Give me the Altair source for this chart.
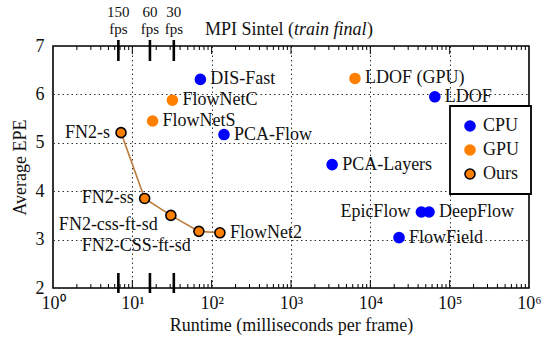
import altair as alt
import pandas as pd

# ---- data ----
names = ["DIS-Fast", "FlowNetC", "FlowNetS", "PCA-Flow", "LDOF (GPU)", "LDOF",
         "PCA-Layers", "EpicFlow", "DeepFlow", "FlowField",
         "FN2-s", "FN2-ss", "FN2-css-ft-sd", "FN2-CSS-ft-sd", "FlowNet2"]
runtime = [72, 32, 18, 143, 6400, 65000, 3300, 44000, 55000, 23000,
           7.2, 14.3, 30.6, 69, 127]
epe = [6.31, 5.88, 5.45, 5.17, 6.33, 5.95, 4.55, 3.57, 3.57, 3.04,
       5.21, 3.85, 3.50, 3.17, 3.14]
kind = ["CPU", "GPU", "GPU", "CPU", "GPU", "CPU", "CPU", "CPU", "CPU", "CPU",
        "Ours", "Ours", "Ours", "Ours", "Ours"]

kinds = ["CPU", "GPU", "Ours"]
fills = ["#0000ff", "#ff8000", "#ff8000"]
strokes = ["#0000ff", "#ff8000", "#000000"]

fps = [150, 60, 30]
fps_labels = ["150\nfps", "60\nfps", "30\nfps"]
decades = [1, 10, 100, 1000, 10000, 100000, 1000000]
minor = [m * d for d in decades[:-1] for m in range(2, 10)]
y_ticks = [2, 3, 4, 5, 6, 7]

right_labels = ["DIS-Fast", "FlowNetC", "FlowNetS", "PCA-Flow", "LDOF (GPU)", "LDOF",
                "PCA-Layers", "DeepFlow", "FlowField", "FlowNet2"]
left_labels = ["FN2-s", "FN2-ss", "EpicFlow"]

df = pd.DataFrame({"name": names, "runtime": runtime, "epe": epe, "kind": kind})
fps_df = pd.DataFrame({"runtime": [1000.0 / f for f in fps], "label": fps_labels})
minor_df = pd.DataFrame({"runtime": minor})
major_df = pd.DataFrame({"runtime": decades[1:-1]})

FONT = "Liberation Serif"
W, H = 476, 242

xscale = alt.Scale(type="log", domain=[1, 1000000], nice=False)
yscale = alt.Scale(domain=[2, 7], nice=False, zero=False)
sup = "['\u2070','\u00b9','\u00b2','\u00b3','\u2074','\u2075','\u2076']"
xaxis = alt.Axis(values=decades, labelExpr="'10' + " + sup + "[round(log(datum.value)/LN10)]",
                 ticks=False, domain=False, grid=True, gridDash=[1.5, 3], gridColor="#333",
                 gridWidth=1, labelFont=FONT, labelFontSize=18, labelColor="#111",
                 labelPadding=6, title="Runtime (milliseconds per frame)",
                 titleFont=FONT, titleFontSize=18, titleFontWeight="normal",
                 titleColor="#111", titlePadding=4, labelFlush=False)
yaxis = alt.Axis(values=y_ticks, ticks=False, domain=False, grid=True, gridDash=[1.5, 3],
                 gridColor="#333", gridWidth=1, labelFont=FONT, labelFontSize=18,
                 labelColor="#111", labelPadding=9, title="Average EPE",
                 titleFont=FONT, titleFontSize=18, titleFontWeight="normal",
                 titleColor="#111", titlePadding=6, labelFlush=False)

X = alt.X("runtime:Q", scale=xscale, axis=xaxis)
Y = alt.Y("epe:Q", scale=yscale, axis=yaxis)

base = alt.Chart(df)

line = base.transform_filter(alt.datum.kind == "Ours").mark_line(
    color="#bb7d3e", strokeWidth=1.6).encode(x=X, y=Y)

legend = alt.Legend(title=None, orient="none", legendX=397, legendY=60,
                    fillColor="white", strokeColor="black",
                    padding=11, labelFont=FONT, labelFontSize=18,
                    labelColor="#111", symbolSize=100,
                    symbolStrokeWidth=1.6, rowPadding=6,
                    symbolType="circle", labelOffset=4)

points = base.mark_point(filled=True, size=100, strokeWidth=1.6, opacity=1).encode(
    x=X, y=Y,
    fill=alt.Fill("kind:N", scale=alt.Scale(domain=kinds, range=fills), legend=legend),
    stroke=alt.Stroke("kind:N", scale=alt.Scale(domain=kinds, range=strokes), legend=legend),
)

def labels(sel, **kw):
    return base.transform_filter(alt.FieldOneOfPredicate(field="name", oneOf=sel)).mark_text(
        font=FONT, fontSize=18, color="#111", baseline="middle", **kw
    ).encode(x=X, y=Y, text="name:N")

lab_r = labels(right_labels, align="left", dx=10)
lab_l = labels(left_labels, align="right", dx=-11)
lab_c1 = labels(["FN2-css-ft-sd"], align="right", dx=-13, dy=10)
lab_c2 = labels(["FN2-CSS-ft-sd"], align="right", dx=-8, dy=15)

minor_top = alt.Chart(minor_df).mark_rule(color="black", strokeWidth=1).encode(
    x=X, y=alt.value(0), y2=alt.value(4))
minor_bot = alt.Chart(minor_df).mark_rule(color="black", strokeWidth=1).encode(
    x=X, y=alt.value(H - 4), y2=alt.value(H))
major_top = alt.Chart(major_df).mark_rule(color="black", strokeWidth=1).encode(
    x=X, y=alt.value(0), y2=alt.value(8))
major_bot = alt.Chart(major_df).mark_rule(color="black", strokeWidth=1).encode(
    x=X, y=alt.value(H - 8), y2=alt.value(H))

fps_top = alt.Chart(fps_df).mark_rule(color="black", strokeWidth=2.6).encode(
    x=X, y=alt.value(-6), y2=alt.value(15))
fps_bot = alt.Chart(fps_df).mark_rule(color="black", strokeWidth=2.6).encode(
    x=X, y=alt.value(H - 15), y2=alt.value(H + 5))
fps_text = alt.Chart(fps_df).mark_text(font=FONT, fontSize=15, color="#111",
                                       baseline="alphabetic", align="center",
                                       lineBreak="\n", lineHeight=17.5).encode(
    x=X, y=alt.value(-29.5), text="label:N")

title_parts = [("MPI Sintel (", "normal", 152), ("train final", "italic", 241), (")", "normal", 314)]
title_layers = [
    alt.Chart(df).transform_filter(alt.datum.name == "FlowNet2").mark_text(
        font=FONT, fontSize=18, color="#111", baseline="alphabetic", align="left",
        fontStyle=style).encode(x=alt.value(px), y=alt.value(-11), text=alt.value(txt))
    for txt, style, px in title_parts
]

chart = alt.layer(
    line, minor_top, minor_bot, major_top, major_bot, fps_top, fps_bot,
    points, lab_r, lab_l, lab_c1, lab_c2, fps_text, *title_layers
).properties(
    width=W, height=H,
    autosize=alt.AutoSizeParams(type="none"),
    padding={"left": 53, "top": 46, "right": 30, "bottom": 55},
    background="white",
).configure_view(stroke="black", strokeWidth=1.6).configure_legend(strokeWidth=1.8)

chart.save("out.html", embed_options={"renderer": "svg", "actions": False})
